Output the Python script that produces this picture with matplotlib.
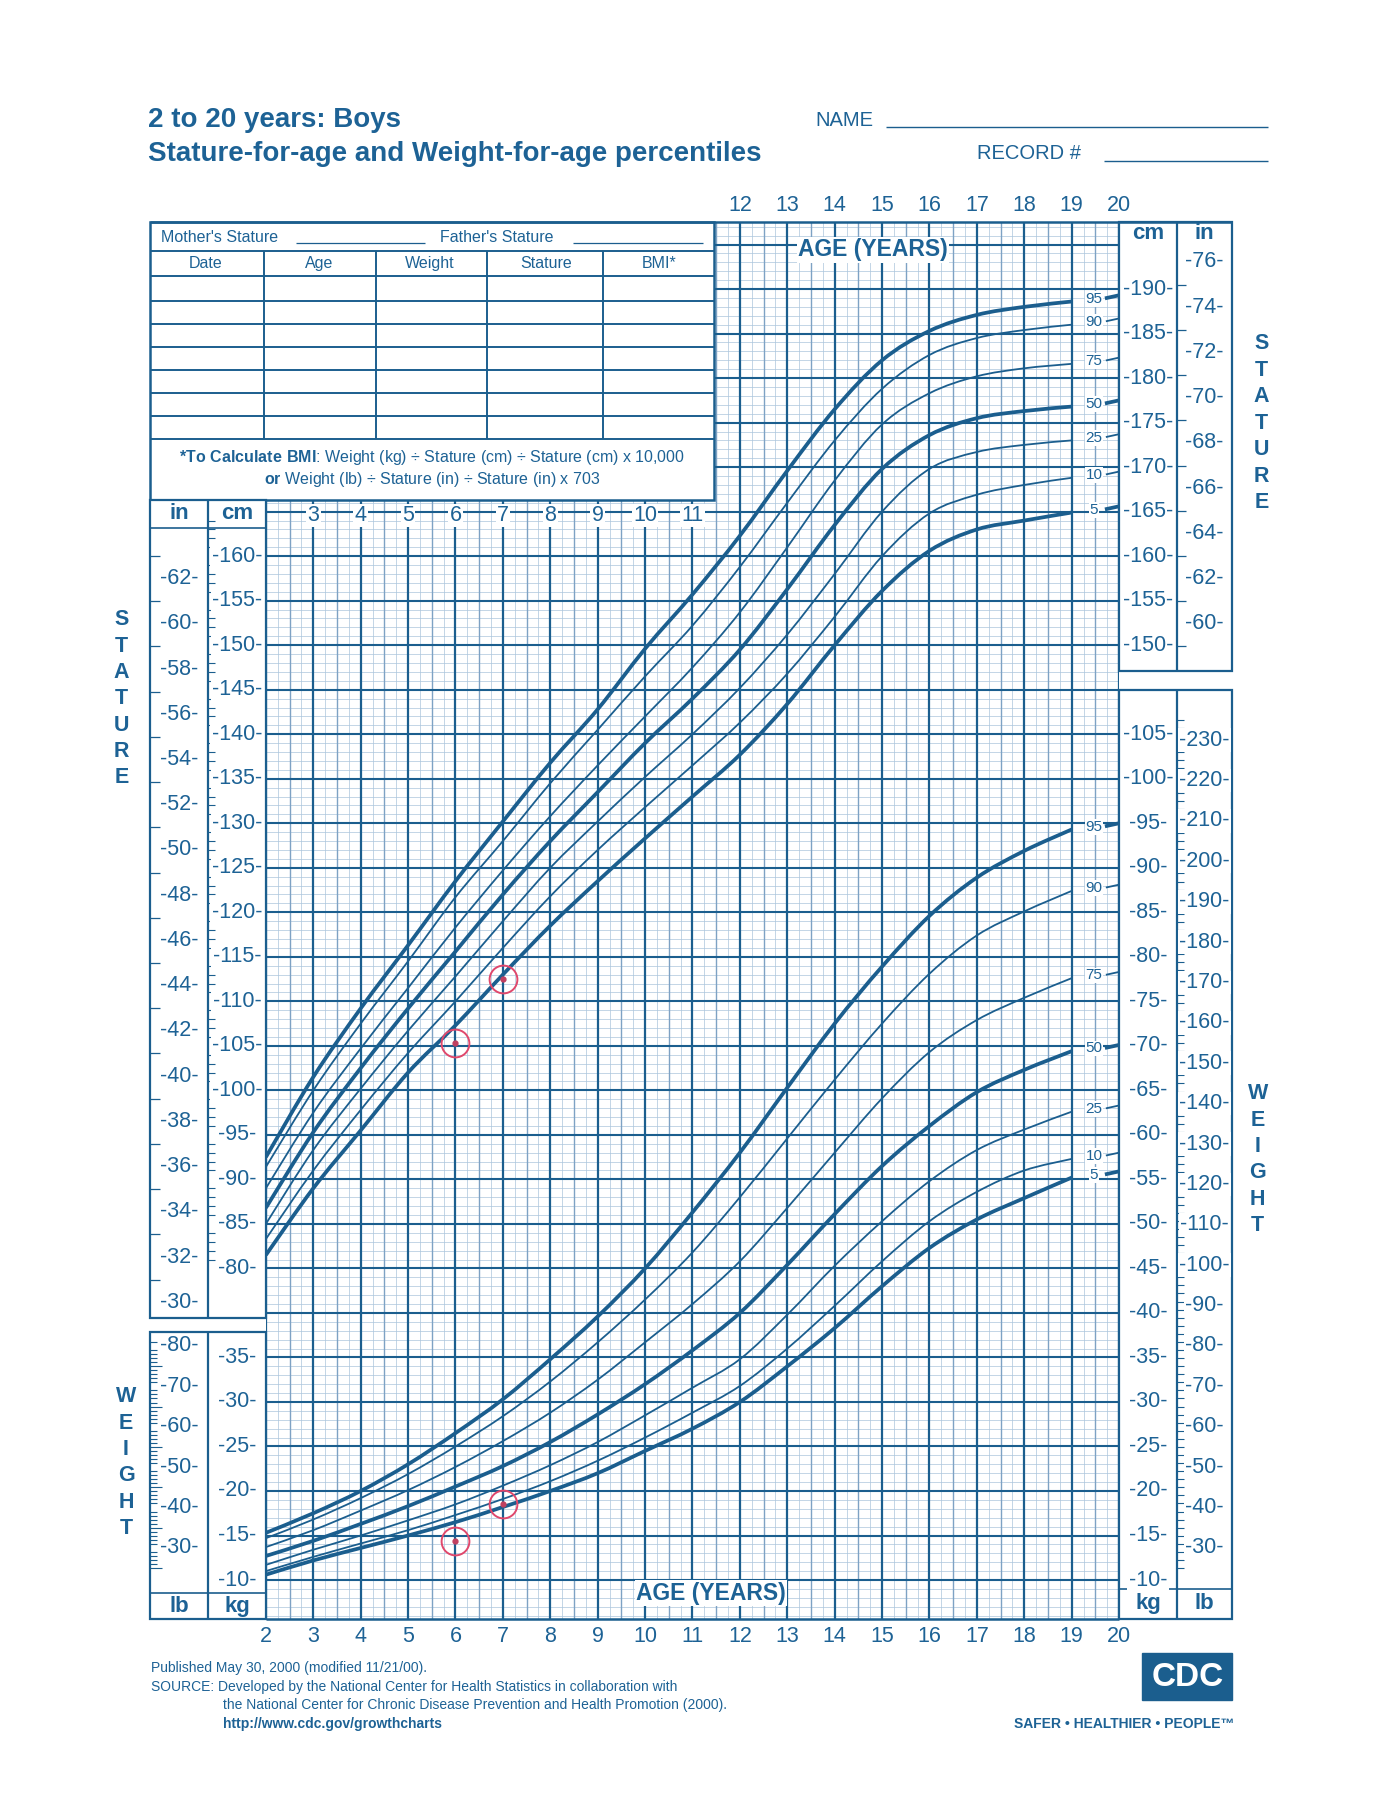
import matplotlib
matplotlib.use("Agg")
import matplotlib.pyplot as plt
from matplotlib.patches import Rectangle, PathPatch
from matplotlib.path import Path
import numpy as np

plt.rcParams['font.family'] = ['Liberation Sans', 'DejaVu Sans']
plt.rcParams['mathtext.fontset'] = 'custom'
plt.rcParams['mathtext.rm'] = 'Liberation Sans'
plt.rcParams['mathtext.bf'] = 'Liberation Sans:bold'

# ---------------- data ----------------
ages = [2, 3, 4, 5, 6, 7, 8, 9, 10, 11, 12, 13, 14, 15, 16, 17, 18, 19]
percentiles = ["5", "10", "25", "50", "75", "90", "95"]
stature = {
    "5":  [81.5, 89.0, 95.5, 102.0, 107.3, 113.0, 118.5, 123.5, 128.3, 133.0, 137.7, 143.4, 150.0, 156.1, 160.6, 163.0, 164.0, 164.9],
    "10": [83.3, 91.0, 97.8, 104.2, 110.0, 116.0, 121.8, 127.0, 131.8, 136.5, 141.3, 146.8, 153.2, 160.0, 164.8, 166.9, 168.0, 168.8],
    "25": [85.0, 93.3, 100.2, 106.7, 112.8, 119.0, 125.0, 130.2, 135.2, 140.0, 145.2, 151.2, 158.0, 165.0, 169.8, 171.7, 172.5, 173.0],
    "50": [86.8, 95.3, 102.5, 109.2, 115.6, 122.0, 128.0, 133.5, 139.0, 144.0, 149.5, 156.3, 163.5, 169.8, 173.6, 175.5, 176.3, 176.8],
    "75": [89.0, 97.5, 104.7, 111.5, 118.3, 124.7, 130.8, 136.5, 142.0, 147.5, 153.7, 161.0, 168.5, 174.8, 178.3, 180.2, 181.1, 181.6],
    "90": [91.4, 100.0, 107.5, 114.5, 121.7, 128.0, 134.5, 140.5, 146.5, 152.2, 158.8, 166.0, 173.0, 178.8, 182.6, 184.5, 185.4, 186.0],
    "95": [92.5, 101.5, 109.2, 116.3, 123.5, 130.2, 136.8, 142.8, 149.6, 155.7, 162.3, 169.6, 176.5, 182.0, 185.3, 187.1, 188.0, 188.6],
}
weight = {
    "5":  [10.6, 12.2, 13.6, 15.0, 16.5, 18.2, 20.0, 22.0, 24.5, 27.0, 30.0, 34.0, 38.3, 43.0, 47.3, 50.5, 52.9, 55.2],
    "10": [11.0, 12.6, 14.1, 15.6, 17.3, 19.1, 21.1, 23.4, 26.0, 28.8, 31.8, 36.0, 40.8, 45.8, 50.3, 53.6, 56.0, 57.3],
    "25": [11.7, 13.4, 15.0, 16.7, 18.5, 20.6, 22.9, 25.5, 28.5, 31.6, 34.8, 39.8, 45.3, 50.3, 54.8, 58.3, 60.6, 62.6],
    "50": [12.7, 14.4, 16.3, 18.3, 20.5, 22.8, 25.5, 28.6, 32.0, 35.8, 40.0, 45.4, 51.1, 56.5, 61.0, 64.8, 67.3, 69.4],
    "75": [13.7, 15.6, 17.8, 20.1, 22.7, 25.6, 28.8, 32.5, 36.7, 41.0, 45.8, 51.8, 58.0, 64.1, 69.3, 72.9, 75.4, 77.6],
    "90": [14.7, 16.8, 19.2, 21.9, 25.0, 28.4, 32.3, 36.7, 41.5, 46.8, 53.0, 59.6, 66.2, 72.5, 78.1, 82.4, 85.1, 87.4],
    "95": [15.3, 17.5, 20.0, 23.0, 26.5, 30.3, 34.8, 39.6, 45.0, 51.3, 58.0, 65.3, 72.5, 78.9, 84.6, 88.9, 91.9, 94.3],
}
bold_pcts = ["5", "50", "95"]
patient_age = [6, 7]
patient_stature = [105.3, 112.5]
patient_weight = [14.4, 18.5]

KG_OFFSET = 35.0  # weight kg drawn on the same vertical scale, shifted

C = '#1b5e8e'
CT = '#1d6295'
CL = '#abc5dc'
CM = '#7ea2c4'

W, H = 1211, 1568
fig = plt.figure(figsize=(14, 18.13), dpi=100)
fig.patch.set_facecolor('white')

def ypx(v):
    return 1097 - (v - 80) * 7.7

def xpx(a):
    return 230 + (a - 2) * 41.0

Y_TOP, Y_BOT = 192, 1400
ax = fig.add_axes([230 / W, 1 - Y_BOT / H, 738 / W, (Y_BOT - Y_TOP) / H])
ax.set_xlim(2, 20)
ax.set_ylim(80 - (Y_BOT - 1097) / 7.7, 80 + (1097 - Y_TOP) / 7.7)
ax.axis('off')
ax.set_zorder(1)

for q in np.arange(2, 20.01, 0.25):
    if abs(q - round(q)) < 1e-6:
        ax.axvline(q, color=C, lw=1.6, zorder=1)
    elif abs(q * 2 - round(q * 2)) < 1e-6:
        ax.axvline(q, color=CM, lw=1.0, zorder=0.8)
    else:
        ax.axvline(q, color=CL, lw=0.5, zorder=0.6)
for v in range(38, 199):
    if v % 5 == 0:
        ax.axhline(v, color=C, lw=1.5, zorder=1)
    else:
        ax.axhline(v, color=CL, lw=0.5, zorder=0.6)

def smooth_curve(xs, ys, lw):
    # Catmull-Rom spline through the read points, drawn as a cubic Bezier path
    P = np.column_stack([xs, ys]).astype(float)
    n = len(P)
    verts = [P[0]]
    codes = [Path.MOVETO]
    for i in range(n - 1):
        p0 = P[i - 1] if i > 0 else P[i]
        p1, p2 = P[i], P[i + 1]
        p3 = P[i + 2] if i + 2 < n else P[i + 1]
        verts += [p1 + (p2 - p0) / 6.0, p2 - (p3 - p1) / 6.0, p2]
        codes += [Path.CURVE4] * 3
    ax.add_patch(PathPatch(Path(verts, codes), fill=False, edgecolor=C, lw=lw,
                           capstyle='butt', zorder=3))

for p in percentiles:
    lw = 2.7 if p in bold_pcts else 1.3
    wser = [w + KG_OFFSET for w in weight[p]]
    smooth_curve(ages, stature[p], lw)
    smooth_curve(ages, wser, lw)
    for series in (stature[p], wser):
        yv = series[-1]
        ax.text(19.47, yv + 0.3, p, fontsize=11, color=CT, ha='center', va='center', zorder=5,
                bbox=dict(facecolor='white', edgecolor='none', pad=0.5))
        ax.plot([19.74, 20], [yv + 0.4, yv + 0.7], color=C, lw=lw, zorder=3)

for ys in (patient_stature, [w + KG_OFFSET for w in patient_weight]):
    ax.plot(patient_age, ys, 'o', ms=20, mfc='none', mec='#e0486c', mew=1.4, zorder=6, clip_on=False)
    ax.plot(patient_age, ys, '.', ms=7, color='#c04060', zorder=6)

# ---------------- overlay in pixel space ----------------
o = fig.add_axes([0, 0, 1, 1])
o.set_xlim(0, W)
o.set_ylim(H, 0)
o.axis('off')
o.set_zorder(2)
o.patch.set_alpha(0)

def rect(x0, y0, x1, y1, fc='white', ec=C, lw=1.6):
    o.add_patch(Rectangle((x0, y0), x1 - x0, y1 - y0, facecolor=fc, edgecolor=ec, lw=lw))

def line(x0, y0, x1, y1, lw=1.4, c=C):
    o.plot([x0, x1], [y0, y1], color=c, lw=lw, solid_capstyle='butt')

def txt(x, y, s, size=11, ha='left', weight='normal', bg=False, **kw):
    b = dict(facecolor='white', edgecolor='none', pad=1.0) if bg else None
    o.text(x, y, s, fontsize=size, color=CT, ha=ha, va='center', fontweight=weight, bbox=b, **kw)

txt(128, 104, "2 to 20 years: Boys", 20, weight='bold')
txt(128, 133, "Stature-for-age and Weight-for-age percentiles", 20, weight='bold')
txt(705, 104, "NAME", 14.5)
line(766, 110, 1097, 110, 1.0)
txt(845, 133, "RECORD #", 14.5)
line(955, 139, 1097, 139, 1.0)

line(130, Y_TOP, 1066, Y_TOP, 1.8)
line(230, Y_BOT, 968, Y_BOT, 1.8)

rect(130, Y_TOP, 618, 432, lw=1.8)
txt(139, 205, "Mother's Stature", 11.5)
line(256, 210, 368, 210, 0.9)
txt(381, 205, "Father's Stature", 11.5)
line(496, 210, 608, 210, 0.9)
for yy in [217, 239, 260, 280, 300, 320, 340, 360, 380]:
    line(130, yy, 618, yy, 1.4)
for xx in [228, 325, 421, 522]:
    line(xx, 217, xx, 380, 1.4)
for cx, s in zip([178, 276, 372, 472, 570], ["Date", "Age", "Weight", "Stature", "BMI*"]):
    txt(cx, 228, s, 11.5, ha='center')
o.text(374, 396, r"$\mathbf{*To\ Calculate\ BMI}$: Weight (kg) ÷ Stature (cm) ÷ Stature (cm) x 10,000",
       fontsize=11.5, color=CT, ha='center', va='center')
o.text(374, 415, r"$\mathbf{or}$ Weight (lb) ÷ Stature (in) ÷ Stature (in) x 703",
       fontsize=11.5, color=CT, ha='center', va='center')

for a in range(12, 21):
    txt(xpx(a), 178, str(a), 15.5, ha='center')
for a in range(2, 21):
    txt(xpx(a), 1415, str(a), 15.5, ha='center')
for a in range(3, 12):
    txt(xpx(a), 446, str(a), 15.5, ha='center', bg=True)

txt(755, 216, "AGE (YEARS)", 16.5, ha='center', weight='bold', bg=True)
txt(615, 1378, "AGE (YEARS)", 16.5, ha='center', weight='bold', bg=True)

SZ = 15.5
rect(130, 432, 230, 1140, lw=1.6)
line(180, 432, 180, 1140, 1.6)
rect(130, 1152, 230, Y_BOT, lw=1.6)
line(180, 1152, 180, Y_BOT, 1.6)
line(130, 457, 230, 457, 1.2)
txt(155, 444, "in", 16, ha='center', weight='bold')
txt(205, 444, "cm", 16, ha='center', weight='bold')
line(130, 1378, 230, 1378, 1.2)
txt(155, 1389, "lb", 16, ha='center', weight='bold')
txt(205, 1389, "kg", 16, ha='center', weight='bold')

for v in range(80, 161, 5):
    txt(205, ypx(v), "-%d-" % v, SZ, ha='center', bg=True)
for v in range(81, 165):
    if v % 5:
        line(180, ypx(v), 186, ypx(v), 0.8)
for inch in range(30, 64):
    yy = ypx(inch * 2.54)
    if yy < 460 or yy > 1138:
        continue
    if inch % 2 == 0:
        txt(155, yy, "-%d-" % inch, SZ, ha='center', bg=True)
    else:
        line(130, yy, 138, yy, 0.9)
for v in range(10, 36, 5):
    txt(205, ypx(v + KG_OFFSET), "-%d-" % v, SZ, ha='center', bg=True)
for lb in range(30, 81, 10):
    txt(155, ypx(lb * 0.45359 + KG_OFFSET), "-%d-" % lb, SZ, ha='center', bg=True)
for lb in range(25, 82, 1):
    yy = ypx(lb * 0.45359 + KG_OFFSET)
    if 1156 < yy < 1374 and lb % 10:
        line(130, yy, 136 if lb % 5 else 140, yy, 0.8)

rect(968, Y_TOP, 1066, 580, lw=1.6)
line(1018, Y_TOP, 1018, 580, 1.6)
rect(968, 597, 1066, Y_BOT, lw=1.6)
line(1018, 597, 1018, Y_BOT, 1.6)
txt(993, 202, "cm", 16, ha='center', weight='bold')
txt(1042, 202, "in", 16, ha='center', weight='bold')
line(968, 1374, 1066, 1374, 1.2)
txt(993, 1387, "kg", 16, ha='center', weight='bold')
txt(1042, 1387, "lb", 16, ha='center', weight='bold')

for v in range(150, 191, 5):
    txt(993, ypx(v), "-%d-" % v, SZ, ha='center', bg=True)
for inch in range(58, 78):
    yy = ypx(inch * 2.54)
    if yy < 212 or yy > 578:
        continue
    if inch % 2 == 0:
        txt(1042, yy, "-%d-" % inch, SZ, ha='center', bg=True)
    else:
        line(1018, yy, 1026, yy, 0.9)
for v in range(10, 106, 5):
    txt(993, ypx(v + KG_OFFSET), "-%d-" % v, SZ, ha='center', bg=True)
for lb in range(30, 231, 10):
    txt(1042, ypx(lb * 0.45359 + KG_OFFSET), "-%d-" % lb, SZ, ha='center', bg=True)
for lb in range(25, 236, 2):
    yy = ypx(lb * 0.45359 + KG_OFFSET)
    if 600 < yy < 1372 and lb % 10:
        line(1018, yy, 1024, yy, 0.8)

def vword(x, y0, word, dy):
    for i, ch in enumerate(word):
        txt(x, y0 + i * dy, ch, 15.5, ha='center', weight='bold')

vword(105, 536, "STATURE", 22.8)
vword(109, 1208, "WEIGHT", 22.8)
vword(1091, 297, "STATURE", 23)
vword(1088, 946, "WEIGHT", 22.8)

txt(131, 1443, "Published May 30, 2000 (modified 11/21/00).", 10)
txt(131, 1459, "SOURCE: Developed by the National Center for Health Statistics in collaboration with", 10)
txt(193, 1475, "the National Center for Chronic Disease Prevention and Health Promotion (2000).", 10)
txt(193, 1491, "http://www.cdc.gov/growthcharts", 10, weight='bold')

rect(988, 1430, 1066, 1470, fc=C, ec=C, lw=1)
o.text(1027, 1451, "CDC", fontsize=24, color='white', ha='center', va='center', fontweight='bold')
txt(972, 1491, "SAFER • HEALTHIER • PEOPLE™", 10, ha='center', weight='bold')

fig.savefig("out.png", dpi=100, facecolor='white')
